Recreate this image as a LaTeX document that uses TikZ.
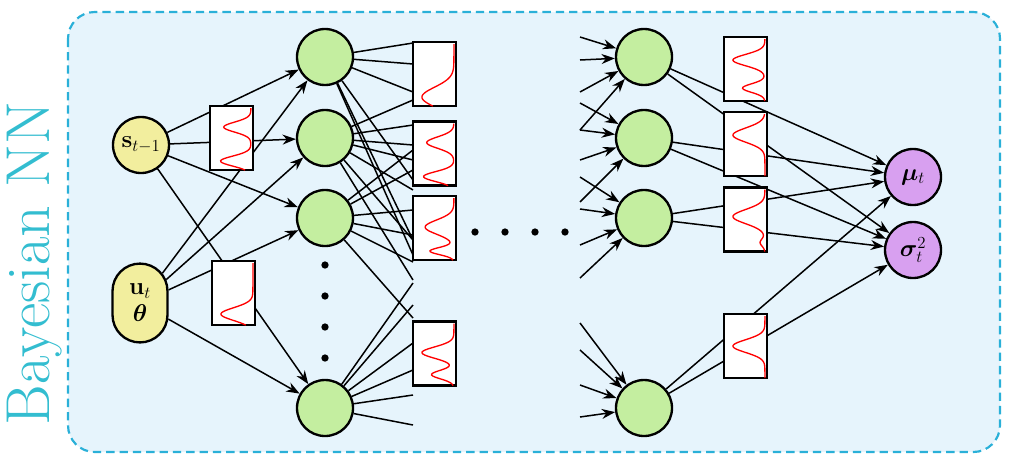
\documentclass[tikz,border=0pt]{standalone}
\usepackage{amsmath,bm}
\usetikzlibrary{arrows.meta,shapes.misc}
\definecolor{bgc}{HTML}{E6F4FC}
\definecolor{frm}{HTML}{2AB0D8}
\definecolor{grn}{HTML}{C4EEA0}
\definecolor{yel}{HTML}{F2EE9E}
\definecolor{pur}{HTML}{D8A0F0}
\definecolor{ttl}{HTML}{33BDD0}
\begin{document}
\begin{tikzpicture}[x=0.03cm,y=-0.03cm,
  neu/.style={circle,draw,line width=0.07cm,fill=grn,minimum size=1.68cm,inner sep=0},
  inp/.style={circle,draw,line width=0.07cm,fill=yel,minimum size=1.68cm,inner sep=0,font=\huge},
  outn/.style={circle,draw,line width=0.07cm,fill=pur,minimum size=1.68cm,inner sep=0,font=\huge},
  box/.style={draw,line width=0.065cm,fill=white,minimum width=1.29cm,minimum height=1.92cm,inner sep=0},
  ln/.style={line width=0.045cm},
  ar/.style={line width=0.045cm,-{Stealth[length=0.4cm,width=0.3cm]}},
  dist/.style={red,line width=0.04cm,domain=1:63,samples=60,variable=\t,smooth},
  dot/.style={circle,fill=black,inner sep=0,minimum size=0.22cm}]
\useasboundingbox (0,0) rectangle (1012,466);
\draw[frm,dashed,line width=0.065cm,fill=bgc,rounded corners=0.8cm,dash pattern=on 0.25cm off 0.15cm] (68,12) rectangle (1000,452);
\node[rotate=90,text=ttl,font=\fontsize{53}{58}\selectfont] (title) at (35,263) {Bayesian NN};
% input nodes
\node[inp] (s) at (141,145) {$\mathbf{s}_{t-1}$};
\node[rounded rectangle,rounded rectangle arc length=180,rotate=90,draw,line width=0.07cm,fill=yel,minimum width=2.6cm,minimum height=1.65cm] (u) at (140,303) {};
\node[font=\huge,align=center] (ut) at (140,303) {$\mathbf{u}_t$\\[-2pt]$\bm{\theta}$};
% hidden layers
\foreach \n/\y in {1/57,2/138,3/218,4/408}{
  \node[neu] (a\n) at (325,\y) {};
  \node[neu] (b\n) at (644,\y) {};
}
\node[outn] (mu) at (913,177) {$\bm{\mu}_t$};
\node[outn] (sg) at (913,250) {$\bm{\sigma}_t^2$};
% dots
\foreach \y [count=\i] in {265,296,327,358}{\node[dot] (v\i) at (325,\y) {};}
\foreach \x [count=\i] in {475,505,535,565}{\node[dot] (h\i) at (\x,232) {};}
% input edges
\foreach \t in {1,2,3,4}{\draw[ar] (s) -- (a\t); \draw[ar] (u) -- (a\t);}
% fan lines layer 1
\foreach \y in {43,64,92,180,240,255}{\coordinate (e) at (413,\y); \draw[ln] (a1) -- (e);}
\foreach \y in {100,125,145,160,190,240,280}{\coordinate (e) at (413,\y); \draw[ln] (a2) -- (e);}
\foreach \y in {150,170,210,235,262,318}{\coordinate (e) at (413,\y); \draw[ln] (a3) -- (e);}
\foreach \y in {283,305,343,370,395,425}{\coordinate (e) at (413,\y); \draw[ln] (a4) -- (e);}
% incoming arrows layer 2
\foreach \sy/\t in {37/1,60/1,92/1,130/1,103/2,130/2,160/2,202/2,177/3,209/3,245/3,278/3,323/4,350/4,385/4,417/4}{
  \coordinate (f) at (580,\sy); \draw[ar] (f) -- (b\t);}
% output edges
\foreach \t in {1,2,3,4}{\draw[ar] (b\t) -- (mu); \draw[ar] (b\t) -- (sg);}
% boxes
\node[box] (A) at (231.5,138) {};
\node[box] (B) at (233.5,293) {};
\node[box] (C1) at (434.5,74) {};
\node[box] (C2) at (434.5,153.5) {};
\node[box] (C3) at (434.5,228) {};
\node[box] (C4) at (434.5,353.5) {};
\node[box] (D1) at (745.5,69) {};
\node[box] (D2) at (745.5,144) {};
\node[box] (D3) at (745.5,219.5) {};
\node[box] (D4) at (745.5,346) {};
% distributions (t measured upward from bottom)
\def\g#1#2{exp(-((\t-(#1))/(#2))^2)}
\newcommand{\distr}[2]{\begin{scope}[shift={(#1.south west)}]\draw[dist] plot ({42-32*(#2)},{-\t});\end{scope}}
\distr{A}{0.85*\g{44}{7}+0.95*\g{10}{7}}
\distr{B}{\g{12}{9}}
\distr{C1}{\g{10}{14}}
\distr{C2}{0.85*\g{44}{8}+0.95*\g{10}{7}}
\distr{C3}{0.9*\g{34}{10}+0.75*\g{10}{5}}
\distr{C4}{\g{34}{8}+0.7*\g{12}{6}}
\distr{D1}{\g{42}{8}+0.7*\g{14}{6}}
\distr{D2}{\g{42}{10}}
\distr{D3}{\g{36}{10}+0.15*\g{10}{5}}
\distr{D4}{\g{33}{9}}
\end{tikzpicture}
\end{document}
